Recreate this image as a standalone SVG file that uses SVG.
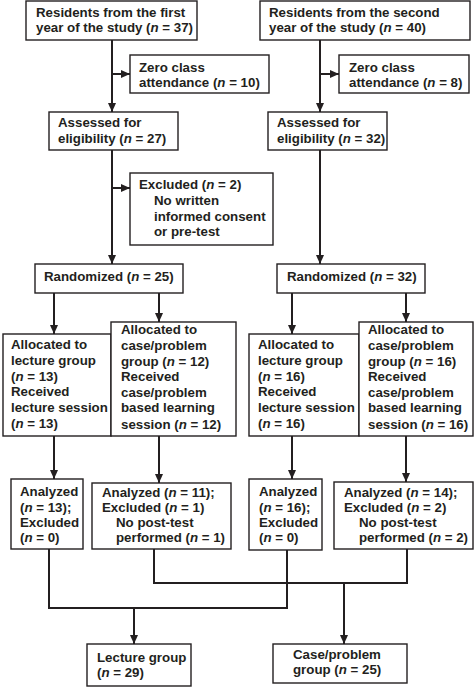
<svg xmlns="http://www.w3.org/2000/svg" width="474" height="687" viewBox="0 0 474 687">
<style>
.b{fill:#fff;stroke:#231f20;stroke-width:1.4}
.t{font-family:"Liberation Sans",Arial,Helvetica,sans-serif;font-weight:bold;font-size:13.3px;fill:#231f20}
.c{fill:none;stroke:#231f20;stroke-width:2}
.i{font-style:italic}
</style>
<defs>
<marker id="ah" markerUnits="userSpaceOnUse" markerWidth="10" markerHeight="10" viewBox="0 0 10 10" refX="9" refY="5" orient="auto">
<path d="M0,1 L9,5 L0,9 Z" fill="#231f20"/>
</marker>
</defs>
<rect width="474" height="687" fill="#fff"/>
<g id="connectors">
<line class="c" x1="112" y1="40" x2="112" y2="112" marker-end="url(#ah)"/>
<line class="c" x1="112" y1="74" x2="130" y2="74" marker-end="url(#ah)"/>
<line class="c" x1="112" y1="150" x2="112" y2="264" marker-end="url(#ah)"/>
<line class="c" x1="112" y1="188" x2="130" y2="188" marker-end="url(#ah)"/>
<line class="c" x1="320" y1="40" x2="320" y2="112" marker-end="url(#ah)"/>
<line class="c" x1="320" y1="74" x2="339" y2="74" marker-end="url(#ah)"/>
<line class="c" x1="320" y1="150" x2="320" y2="264" marker-end="url(#ah)"/>
<line class="c" x1="54" y1="293" x2="54" y2="334" marker-end="url(#ah)"/>
<line class="c" x1="159" y1="293" x2="159" y2="322" marker-end="url(#ah)"/>
<line class="c" x1="292" y1="293" x2="292" y2="334" marker-end="url(#ah)"/>
<line class="c" x1="406" y1="293" x2="406" y2="322" marker-end="url(#ah)"/>
<line class="c" x1="54" y1="436" x2="54" y2="479" marker-end="url(#ah)"/>
<line class="c" x1="159" y1="436" x2="159" y2="483" marker-end="url(#ah)"/>
<line class="c" x1="292" y1="436" x2="292" y2="479" marker-end="url(#ah)"/>
<line class="c" x1="406" y1="436" x2="406" y2="482" marker-end="url(#ah)"/>
<polyline class="c" points="49,549 49,608 287,608 287,550"/>
<line class="c" x1="134" y1="608" x2="134" y2="644" marker-end="url(#ah)"/>
<polyline class="c" points="154,549 154,583 407,583 407,549"/>
<line class="c" x1="344" y1="583" x2="344" y2="644" marker-end="url(#ah)"/>
</g>
<g id="L1"><rect class="b" x="26" y="1" width="171" height="39"/>
<text class="t" x="36" y="17">Residents from the first</text>
<text class="t" x="36" y="32">year of the study (<tspan class="i">n</tspan> = 37)</text></g>
<g id="LZ"><rect class="b" x="130" y="55" width="139" height="38"/>
<text class="t" x="139" y="72">Zero class</text>
<text class="t" x="139" y="87">attendance (<tspan class="i">n</tspan> = 10)</text></g>
<g id="LA"><rect class="b" x="49" y="112" width="129" height="38"/>
<text class="t" x="58" y="127">Assessed for</text>
<text class="t" x="58" y="143">eligibility (<tspan class="i">n</tspan> = 27)</text></g>
<g id="LX"><rect class="b" x="130" y="173" width="143" height="72"/>
<text class="t" x="139" y="189">Excluded (<tspan class="i">n</tspan> = 2)</text>
<text class="t" x="154" y="205">No written</text>
<text class="t" x="154" y="221">informed consent</text>
<text class="t" x="154" y="236">or pre-test</text></g>
<g id="LR"><rect class="b" x="35" y="264" width="148" height="29"/>
<text class="t" x="44" y="281">Randomized (<tspan class="i">n</tspan> = 25)</text></g>
<g id="LAL"><rect class="b" x="3" y="334" width="108" height="102"/>
<text class="t" x="11" y="349">Allocated to</text>
<text class="t" x="11" y="365">lecture group</text>
<text class="t" x="11" y="381">(<tspan class="i">n</tspan> = 13)</text>
<text class="t" x="11" y="396">Received</text>
<text class="t" x="11" y="412">lecture session</text>
<text class="t" x="11" y="428">(<tspan class="i">n</tspan> = 13)</text></g>
<g id="LAC"><rect class="b" x="111" y="322" width="125" height="114"/>
<text class="t" x="121" y="334">Allocated to</text>
<text class="t" x="121" y="350">case/problem</text>
<text class="t" x="121" y="366">group (<tspan class="i">n</tspan> = 12)</text>
<text class="t" x="121" y="381">Received</text>
<text class="t" x="121" y="397">case/problem</text>
<text class="t" x="121" y="412">based learning</text>
<text class="t" x="121" y="429">session (<tspan class="i">n</tspan> = 12)</text></g>
<g id="LNL"><rect class="b" x="11" y="479" width="72" height="70"/>
<text class="t" x="20" y="496">Analyzed</text>
<text class="t" x="20" y="512">(<tspan class="i">n</tspan> = 13);</text>
<text class="t" x="20" y="527">Excluded</text>
<text class="t" x="20" y="542">(<tspan class="i">n</tspan> = 0)</text></g>
<g id="LNC"><rect class="b" x="92" y="483" width="139" height="66"/>
<text class="t" x="102" y="497">Analyzed (<tspan class="i">n</tspan> = 11);</text>
<text class="t" x="102" y="512">Excluded (<tspan class="i">n</tspan> = 1)</text>
<text class="t" x="116" y="527">No post-test</text>
<text class="t" x="116" y="542">performed (<tspan class="i">n</tspan> = 1)</text></g>
<g id="R1"><rect class="b" x="260" y="1" width="210" height="39"/>
<text class="t" x="269" y="17">Residents from the second</text>
<text class="t" x="269" y="32">year of the study (<tspan class="i">n</tspan> = 40)</text></g>
<g id="RZ"><rect class="b" x="339" y="55" width="130" height="38"/>
<text class="t" x="349" y="72">Zero class</text>
<text class="t" x="349" y="87">attendance (<tspan class="i">n</tspan> = 8)</text></g>
<g id="RA"><rect class="b" x="268" y="112" width="119" height="38"/>
<text class="t" x="277" y="127">Assessed for</text>
<text class="t" x="277" y="143">eligibility (<tspan class="i">n</tspan> = 32)</text></g>
<g id="RR"><rect class="b" x="277" y="264" width="148" height="29"/>
<text class="t" x="287" y="281">Randomized (<tspan class="i">n</tspan> = 32)</text></g>
<g id="RAL"><rect class="b" x="249" y="334" width="110" height="102"/>
<text class="t" x="258" y="349">Allocated to</text>
<text class="t" x="258" y="365">lecture group</text>
<text class="t" x="258" y="381">(<tspan class="i">n</tspan> = 16)</text>
<text class="t" x="258" y="396">Received</text>
<text class="t" x="258" y="412">lecture session</text>
<text class="t" x="258" y="428">(<tspan class="i">n</tspan> = 16)</text></g>
<g id="RAC"><rect class="b" x="359" y="322" width="114" height="114"/>
<text class="t" x="368" y="334">Allocated to</text>
<text class="t" x="368" y="350">case/problem</text>
<text class="t" x="368" y="366">group (<tspan class="i">n</tspan> = 16)</text>
<text class="t" x="368" y="381">Received</text>
<text class="t" x="368" y="397">case/problem</text>
<text class="t" x="368" y="412">based learning</text>
<text class="t" x="368" y="429">session (<tspan class="i">n</tspan> = 16)</text></g>
<g id="RNL"><rect class="b" x="249" y="479" width="73" height="71"/>
<text class="t" x="259" y="496">Analyzed</text>
<text class="t" x="259" y="512">(<tspan class="i">n</tspan> = 16);</text>
<text class="t" x="259" y="527">Excluded</text>
<text class="t" x="259" y="542">(<tspan class="i">n</tspan> = 0)</text></g>
<g id="RNC"><rect class="b" x="334" y="482" width="139" height="67"/>
<text class="t" x="344" y="497">Analyzed (<tspan class="i">n</tspan> = 14);</text>
<text class="t" x="344" y="512">Excluded (<tspan class="i">n</tspan> = 2)</text>
<text class="t" x="359" y="527">No post-test</text>
<text class="t" x="359" y="542">performed (<tspan class="i">n</tspan> = 2)</text></g>
<g id="LG"><rect class="b" x="87" y="644" width="104" height="42"/>
<text class="t" x="97" y="662">Lecture group</text>
<text class="t" x="97" y="677">(<tspan class="i">n</tspan> = 29)</text></g>
<g id="CG"><rect class="b" x="273" y="644" width="134" height="39"/>
<text class="t" x="293" y="659">Case/problem</text>
<text class="t" x="293" y="674">group (<tspan class="i">n</tspan> = 25)</text></g>
</svg>
